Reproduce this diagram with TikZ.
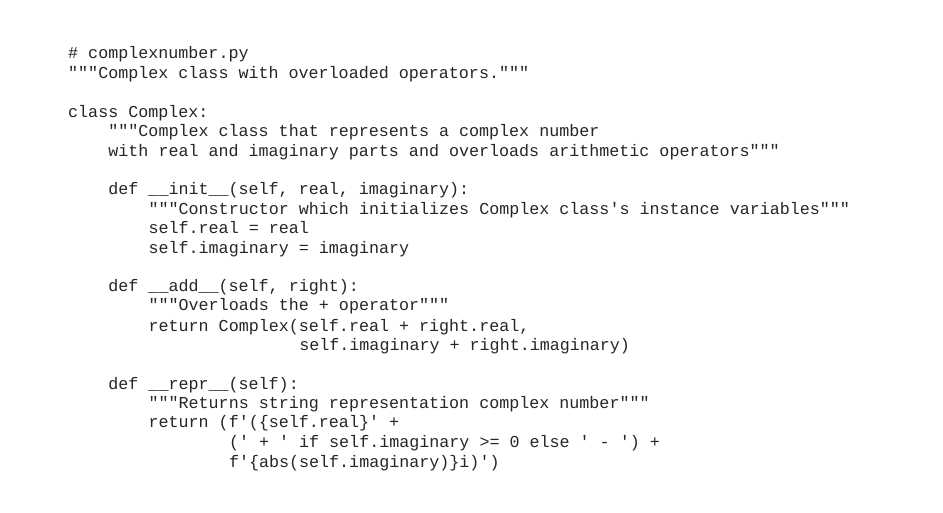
\documentclass[tikz,border=0pt]{standalone}
\usepackage{fontspec}
\newfontfamily\code{Liberation Mono}
\begin{document}
\begin{tikzpicture}[x=1pt,y=-1pt,
  ln/.style={anchor=base west,inner sep=0pt,font=\code\fontsize{16.7}{19}\selectfont,text=black!85}]
\useasboundingbox[fill=white] (0,0) rectangle (943,513);
\def\cw{10.05}
\node[ln] (l1) at (68,59) {\# complexnumber.py};
\node[ln] (l2) at (68,79) {"""Complex class with overloaded operators."""};
\node[ln] (l3) at (68,118) {class Complex:};
\node[ln] (l4) at (68+4*\cw,137) {"""Complex class that represents a complex number};
\node[ln] (l5) at (68+4*\cw,157) {with real and imaginary parts and overloads arithmetic operators"""};
\node[ln] (l6) at (68+4*\cw,195) {def \_\_init\_\_(self, real, imaginary):};
\node[ln] (l7) at (68+8*\cw,215) {"""Constructor which initializes Complex class's instance variables"""};
\node[ln] (l8) at (68+8*\cw,234) {self.real = real};
\node[ln] (l9) at (68+8*\cw,254) {self.imaginary = imaginary};
\node[ln] (l10) at (68+4*\cw,292) {def \_\_add\_\_(self, right):};
\node[ln] (l11) at (68+8*\cw,311) {"""Overloads the + operator"""};
\node[ln] (l12) at (68+8*\cw,331) {return Complex(self.real + right.real,};
\node[ln] (l13) at (68+23*\cw,350) {self.imaginary + right.imaginary)};
\node[ln] (l14) at (68+4*\cw,389) {def \_\_repr\_\_(self):};
\node[ln] (l15) at (68+8*\cw,408) {"""Returns string representation complex number"""};
\node[ln] (l16) at (68+8*\cw,427) {return (f'(\{self.real\}' +};
\node[ln] (l17) at (68+16*\cw,447) {(' + ' if self.imaginary >= 0 else ' - ') +};
\node[ln] (l18) at (68+16*\cw,467) {f'\{abs(self.imaginary)\}i)')};
\end{tikzpicture}
\end{document}
